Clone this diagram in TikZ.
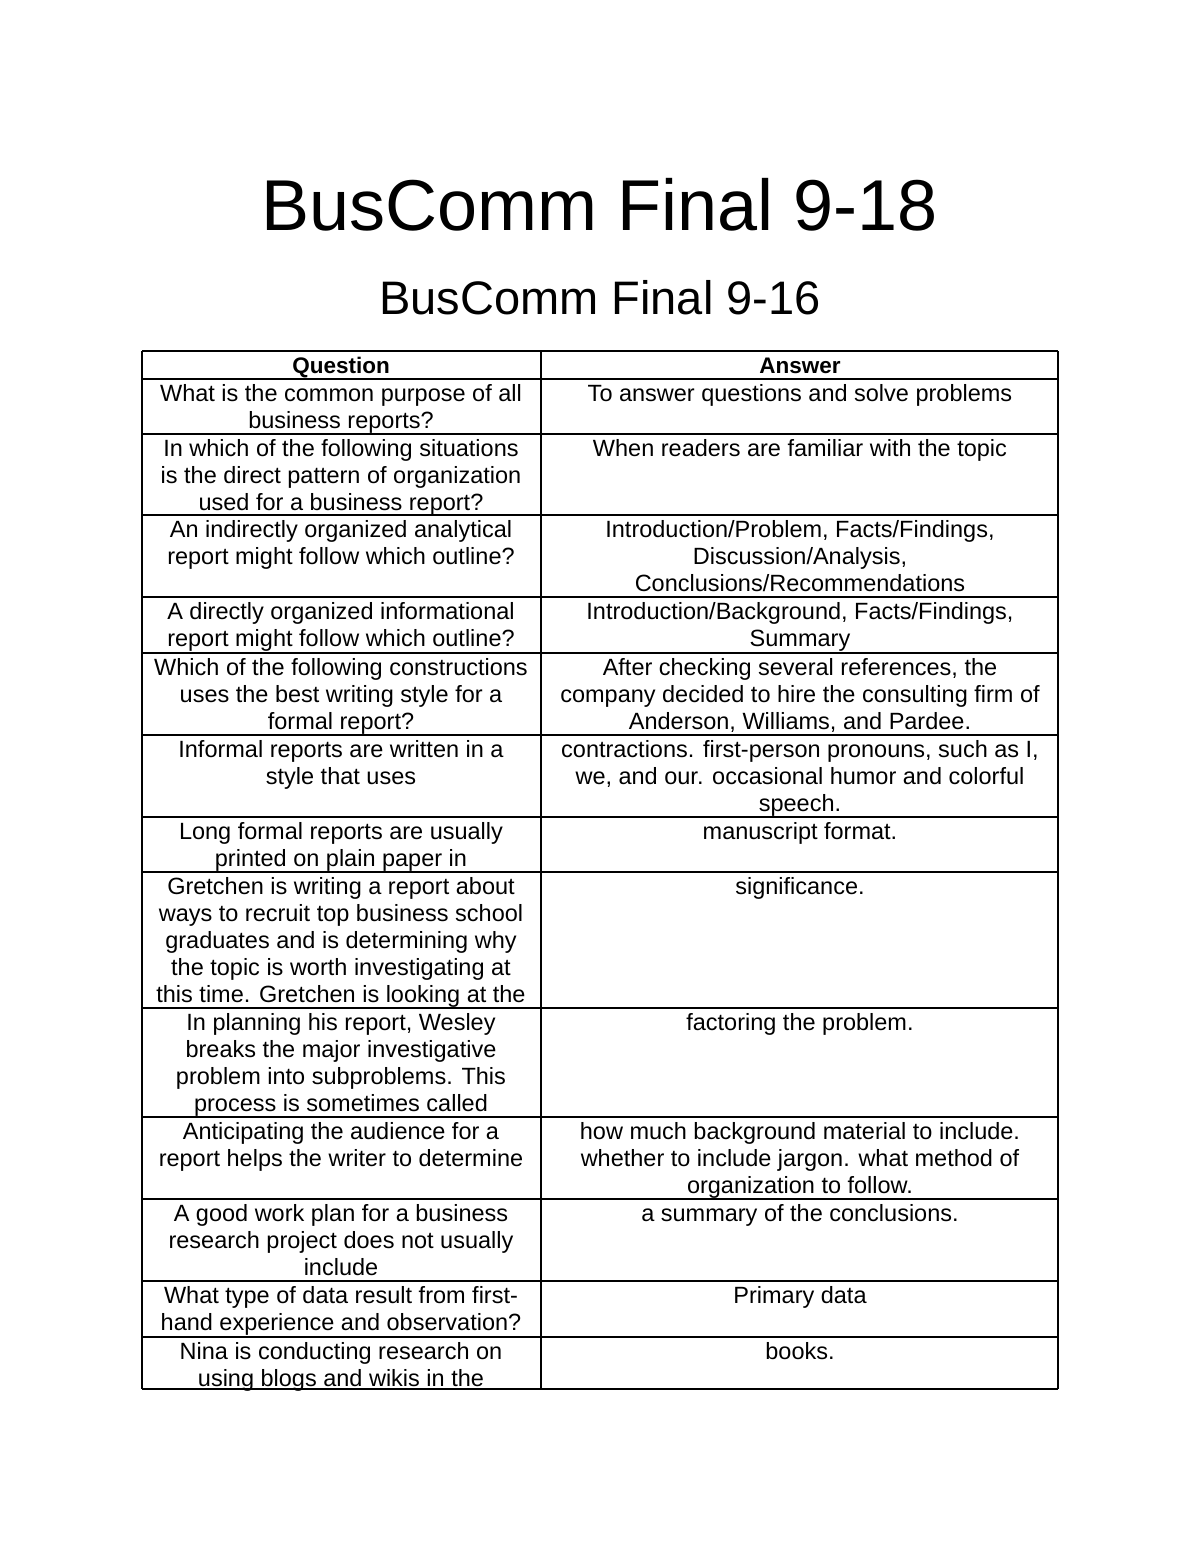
\documentclass[tikz,border=0pt]{standalone}
\usepackage{fontspec}
\setmainfont{Liberation Sans}
\begin{document}
\begin{tikzpicture}[x=1pt,y=-1pt,
 cell/.style={anchor=north,align=center,inner sep=0pt,font=\fontsize{23.5}{27}\selectfont},
 head/.style={anchor=base,inner sep=0pt,font=\fontsize{22.5}{24}\selectfont\bfseries},
 rule/.style={line width=2.2pt}]
\useasboundingbox (0,0) rectangle (1200,1553);
\node[font=\fontsize{72}{78}\selectfont] (t1) at (600,205) {BusComm Final 9-18};
\node[font=\fontsize{47}{52}\selectfont] (t2) at (600,298) {BusComm Final 9-16};
\foreach \y in {351,379,434,515,597,653,735,817,872,1008,1117,1199,1281,1337,1389}
  \draw[rule] (142,\y) -- (1058,\y);
\foreach \x in {142,541,1058} \draw[rule] (\x,351) -- (\x,1389);
\node[head] (hq) at (341,373) {Question};
\node[head] (ha) at (800,373) {Answer};
\newcommand\qrow[3]{\node[cell] at (341,#1+5) {#2};\node[cell] at (800,#1+5) {#3};}
\qrow{379}{What is the common purpose of all\\business reports?}{To answer questions and solve problems}
\qrow{434}{In which of the following situations\\is the direct pattern of organization\\used for a business report?}{When readers are familiar with the topic}
\qrow{515}{An indirectly organized analytical\\report might follow which outline?}{Introduction/Problem, Facts/Findings,\\Discussion/Analysis,\\Conclusions/Recommendations}
\qrow{597}{A directly organized informational\\report might follow which outline?}{Introduction/Background, Facts/Findings,\\Summary}
\qrow{653}{Which of the following constructions\\uses the best writing style for a\\formal report?}{After checking several references, the\\company decided to hire the consulting firm of\\Anderson, Williams, and Pardee.}
\qrow{735}{Informal reports are written in a\\style that uses}{contractions. first-person pronouns, such as I,\\we, and our. occasional humor and colorful\\speech.}
\qrow{817}{Long formal reports are usually\\printed on plain paper in}{manuscript format.}
\qrow{872}{Gretchen is writing a report about\\ways to recruit top business school\\graduates and is determining why\\the topic is worth investigating at\\this time. Gretchen is looking at the}{significance.}
\qrow{1008}{In planning his report, Wesley\\breaks the major investigative\\problem into subproblems. This\\process is sometimes called}{factoring the problem.}
\qrow{1117}{Anticipating the audience for a\\report helps the writer to determine}{how much background material to include.\\whether to include jargon. what method of\\organization to follow.}
\qrow{1199}{A good work plan for a business\\research project does not usually\\include}{a summary of the conclusions.}
\qrow{1281}{What type of data result from first-\\hand experience and observation?}{Primary data}
\qrow{1337}{Nina is conducting research on\\using blogs and wikis in the}{books.}
\end{tikzpicture}
\end{document}
